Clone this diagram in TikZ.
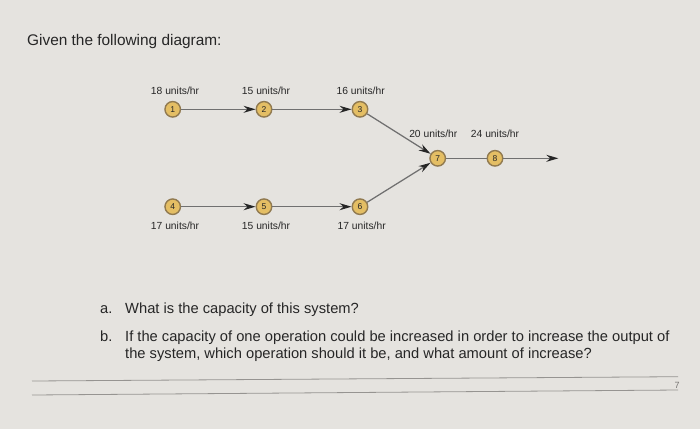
\documentclass[tikz,border=0pt]{standalone}
\usepackage{fontspec}
\setmainfont{Liberation Sans}
\usetikzlibrary{arrows.meta}
\definecolor{bg}{RGB}{229,227,223}
\definecolor{nodefill}{RGB}{228,190,100}
\definecolor{noderim}{RGB}{145,122,80}
\definecolor{linecol}{RGB}{112,112,112}
\definecolor{textcol}{RGB}{38,38,38}
\definecolor{rulecol}{RGB}{150,148,145}
\tikzset{
  op/.style={circle, draw=noderim, line width=1.4pt, fill=nodefill, minimum size=15.5pt,
    inner sep=0pt, font=\fontsize{8.5}{8.5}\selectfont, text=textcol},
  rate/.style={font=\fontsize{10.3}{12}\selectfont, text=textcol, inner sep=0pt},
  flow/.style={draw=linecol, line width=1.25pt},
  arr/.style={flow, -{Stealth[length=12pt,width=7pt,color=black!85]}},
  qtext/.style={font=\fontsize{14.7}{17}\selectfont, text=textcol, inner sep=0pt, anchor=base west},
  rulel/.style={draw=rulecol, line width=0.8pt}
}
\begin{document}
\begin{tikzpicture}[x=1pt,y=-1pt]
\fill[bg] (0,0) rectangle (700,429);
\useasboundingbox (0,0) rectangle (700,429);

\node[qtext, font=\fontsize{15.4}{18}\selectfont] (title) at (27,45) {Given the following diagram:};

% operations
\node[op] (n1) at (172.7,109.3) {1};
\node[op] (n2) at (264,109.3) {2};
\node[op] (n3) at (360,109.3) {3};
\node[op] (n4) at (172.7,206.7) {4};
\node[op] (n5) at (264,206.7) {5};
\node[op] (n6) at (360,206.7) {6};
\node[op] (n7) at (437.7,158.3) {7};
\node[op] (n8) at (495,158.3) {8};
\coordinate (out) at (558.3,158.3);

% rates
\node[rate] (r1) at (175,90.7) {18 units/hr};
\node[rate] (r2) at (266,90.7) {15 units/hr};
\node[rate] (r3) at (360.7,90.7) {16 units/hr};
\node[rate] (r4) at (175,226) {17 units/hr};
\node[rate] (r5) at (266,226) {15 units/hr};
\node[rate] (r6) at (361.7,226) {17 units/hr};
\node[rate] (r7) at (433.3,134) {20 units/hr};
\node[rate] (r8) at (495,134) {24 units/hr};

% flows
\draw[arr] (n1) -- (n2);
\draw[arr] (n2) -- (n3);
\draw[arr] (n3) -- (n7);
\draw[arr] (n4) -- (n5);
\draw[arr] (n5) -- (n6);
\draw[arr] (n6) -- (n7);
\draw[flow] (n7) -- (n8);
\draw[arr] (n8) -- (out);

% questions
\node[qtext] (qa) at (100,313) {a.};
\node[qtext] (qat) at (125,313) {What is the capacity of this system?};
\node[qtext] (qb) at (100,341) {b.};
\node[qtext] (qbt1) at (125,341) {If the capacity of one operation could be increased in order to increase the output of};
\node[qtext] (qbt2) at (125,358) {the system, which operation should it be, and what amount of increase?};

% ruled lines
\coordinate (l1a) at (32,381);
\coordinate (l1b) at (678,376.7);
\coordinate (l2a) at (32,395);
\coordinate (l2b) at (678,390);
\draw[rulel] (l1a) -- (l1b);
\draw[rulel] (l2a) -- (l2b);
\node[font=\fontsize{9}{9}\selectfont, text=rulecol!80!black, inner sep=0pt] (pg) at (677,385) {7};
\end{tikzpicture}
\end{document}
